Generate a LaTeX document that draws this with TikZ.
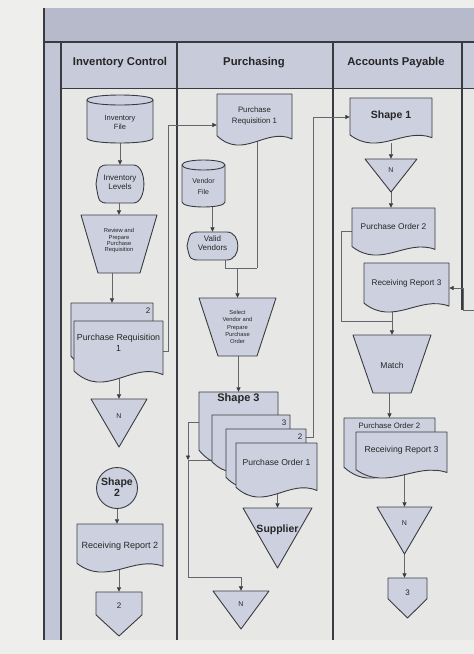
\documentclass[tikz,border=0pt]{standalone}
\usepackage{fontspec}
\setmainfont{Liberation Sans}
\usetikzlibrary{arrows.meta}
\pgfdeclarelayer{bg}
\pgfdeclarelayer{conn}
\pgfsetlayers{bg,conn,main}
\definecolor{pagebg}{HTML}{E7E8E6}
\definecolor{outerbg}{HTML}{EEEEEC}
\definecolor{bandc}{HTML}{B6BACB}
\definecolor{headc}{HTML}{C8CBDA}
\definecolor{stripc}{HTML}{C3C6D6}
\definecolor{shpfill}{HTML}{CDD0DF}
\definecolor{edgec}{HTML}{3A3B40}
\definecolor{connc}{HTML}{66676C}
\tikzset{
  shp/.style={fill=shpfill, draw=edgec, line width=0.9pt, line join=round},
  bx/.style 2 args={draw=none, inner sep=0pt, minimum width={(#1)*1pt}, minimum height={(#2)*1pt}, align=center},
  conn/.style={draw=connc, line width=0.7pt},
  arr/.style={conn, -{Triangle[length=4.5pt,width=4pt,color=edgec]}},
  lane/.style={draw=edgec, line width=1.1pt},
  hdr/.style={inner sep=0pt, font=\fontsize{11.3}{13}\selectfont\bfseries, text=black!85},
  tagn/.style={inner sep=0pt, font=\fontsize{8}{9}\selectfont, text=black!85},
}
\newcommand{\stxt}[4]{{\fontsize{#2pt}{#3pt}\selectfont\color{black!85}\raisebox{\dimexpr #1pt-0.37em\relax}[0pt][0pt]{\begin{tabular}{@{}c@{}}#4\end{tabular}}}}
% document: name x1 y1 x2 y2 text
\newcommand{\mkDoc}[6]{%
  \path[shp] (#2,#3) -- (#4,#3) -- (#4,{#5-0.12*(#5-#3)}) .. controls ({#4-0.35*(#4-#2)},{#5-0.35*(#5-#3)}) and ({#2+0.35*(#4-#2)},{#5+0.3*(#5-#3)}) .. (#2,{#5-0.18*(#5-#3)}) -- cycle;
  \node[bx={#4-#2}{#5-#3}] (#1) at ({(#2+#4)/2},{(#3+#5)/2}) {#6};}
% trapezoid: name x1 y1 x2 y2 inset text
\newcommand{\mkTrap}[7]{%
  \path[shp] (#2,#3) -- (#4,#3) -- ({#4-#6},#5) -- ({#2+#6},#5) -- cycle;
  \node[bx={#4-#2}{#5-#3}] (#1) at ({(#2+#4)/2},{(#3+#5)/2}) {#7};}
% inverted triangle
\newcommand{\mkTri}[6]{%
  \path[shp] (#2,#3) -- (#4,#3) -- ({(#2+#4)/2},#5) -- cycle;
  \node[bx={#4-#2}{#5-#3}] (#1) at ({(#2+#4)/2},{(#3+#5)/2}) {#6};}
% cylinder: name x1 y1 x2 y2 r text
\newcommand{\mkCyl}[7]{%
  \path[shp] (#2,{#3+#6}) -- (#2,{#5-#6}) .. controls (#2,{#5+0.333*#6}) and (#4,{#5+0.333*#6}) .. (#4,{#5-#6}) -- (#4,{#3+#6}) .. controls (#4,{#3-0.333*#6}) and (#2,{#3-0.333*#6}) .. (#2,{#3+#6}) -- cycle;
  \path[shp, fill=none] (#2,{#3+#6}) .. controls (#2,{#3+2.333*#6}) and (#4,{#3+2.333*#6}) .. (#4,{#3+#6});
  \node[bx={#4-#2}{#5-#3}] (#1) at ({(#2+#4)/2},{(#3+#5)/2}) {#7};}
% display shape
\newcommand{\mkDisp}[6]{%
  \path[shp] (#2,{(#3+#5)/2}) .. controls ({#2+0.06*(#4-#2)},#3) .. ({#2+0.28*(#4-#2)},#3) -- ({#4-0.22*(#4-#2)},#3) .. controls ({#4+0.07*(#4-#2)},#3) and ({#4+0.07*(#4-#2)},#5) .. ({#4-0.22*(#4-#2)},#5) -- ({#2+0.28*(#4-#2)},#5) .. controls ({#2+0.06*(#4-#2)},#5) .. (#2,{(#3+#5)/2}) -- cycle;
  \node[bx={#4-#2}{#5-#3}] (#1) at ({(#2+#4)/2},{(#3+#5)/2}) {#6};}
% off-page connector
\newcommand{\mkOff}[6]{%
  \path[shp] (#2,#3) -- (#4,#3) -- (#4,{#3+0.52*(#5-#3)}) -- ({(#2+#4)/2},#5) -- (#2,{#3+0.52*(#5-#3)}) -- cycle;
  \node[bx={#4-#2}{#5-#3}] (#1) at ({(#2+#4)/2},{(#3+#5)/2}) {#6};}
\begin{document}
\begin{tikzpicture}[x=1pt,y=-1pt]
\useasboundingbox (0,0) rectangle (474,654);
\begin{pgfonlayer}{bg}
  \fill[outerbg] (0,0) rectangle (474,654);
  \fill[bandc] (44,8) rectangle (474,42);
  \fill[headc] (61,42) rectangle (474,88);
  \fill[stripc] (44,42) rectangle (61,640);
  \fill[pagebg] (61,88) rectangle (474,640);
  \draw[lane] (44,8) -- (44,640);
  \draw[lane] (44,42) -- (474,42);
  \draw[lane] (61,42) -- (61,640);
  \draw[lane, line width=0.8pt] (61,88) -- (474,88);
  \draw[lane] (177,42) -- (177,640);
  \draw[lane] (333,42) -- (333,640);
  \draw[lane] (462,42) -- (462,310);
\end{pgfonlayer}
% headers
\node[hdr] (h1) at (120,63) {Inventory Control};
\node[hdr] (h2) at (254,63) {Purchasing};
\node[hdr] (h3) at (396,63) {Accounts Payable};
% Inventory Control
\mkCyl{invf}{87}{95}{153}{143}{5}{\stxt{-3.5}{7.5}{9}{Inventory\\File}}
\mkDisp{invl}{96}{165}{144}{203}{\stxt{1.5}{8}{9}{Inventory\\Levels}}
\mkTrap{revq}{81}{215}{157}{273}{17}{\stxt{3.5}{5.8}{6.3}{Review and\\Prepare\\Purchase\\Requisition}}
\mkDoc{pr2}{71}{303}{153}{368}{}
\node[tagn] (pr2t) at (148,311) {2};
\mkDoc{pr1}{74}{321}{163}{382}{\stxt{9}{8.8}{11}{Purchase Requisition\\1}}
\mkTri{tn1}{91}{399}{147}{447}{\stxt{7}{7}{8}{N}}
\node[shp, circle, minimum size=41pt, inner sep=0pt] (sh2) at (117,488) {\stxt{0}{10.5}{11}{\bfseries Shape\\\bfseries 2}};
\mkDoc{rr2}{77}{524}{163}{572}{\stxt{3}{9}{10}{Receiving Report 2}}
\mkOff{off2}{96}{592}{142}{636}{\stxt{8}{8}{9}{2}}
% Purchasing
\mkDoc{ppr}{217}{94}{292}{145}{\stxt{4.5}{7.8}{10.5}{Purchase\\Requisition 1}}
\mkCyl{vf}{182}{160}{225}{207}{5}{\stxt{-2.5}{7}{11}{Vendor\\File}}
\mkDisp{vv}{187}{232}{238}{260}{\stxt{2.5}{8}{9}{Valid\\Vendors}}
\mkTrap{sel}{199}{298}{276}{356}{19}{\stxt{0}{5.8}{7.4}{Select\\Vendor and\\Prepare\\Purchase\\Order}}
\mkDoc{s3}{199}{392}{278}{463}{\stxt{29.5}{11}{12}{\bfseries Shape 3}}
\mkDoc{d3}{212}{415}{290}{472}{}
\node[tagn] (d3t) at (284,423) {3};
\mkDoc{d2}{226}{429}{306}{488}{}
\node[tagn] (d2t) at (300,437) {2};
\mkDoc{po1}{236}{443}{317}{497}{\stxt{7}{8.6}{10}{Purchase Order 1}}
\mkTri{sup}{243}{508}{312}{568}{\stxt{9}{10.5}{12}{\bfseries Supplier}}
\mkTri{tn2}{213}{591}{269}{629}{\stxt{6}{7}{8}{N}}
% Accounts Payable
\mkDoc{sh1}{350}{98}{432}{143}{\stxt{5.5}{10.5}{12}{\bfseries Shape 1}}
\mkTri{tn3}{365}{159}{417}{192}{\stxt{5.5}{7}{8}{N}}
\mkDoc{po2}{352}{208}{435}{255}{\stxt{5.5}{8.3}{10}{Purchase Order 2}}
\mkDoc{rr3}{364}{263}{449}{312}{\stxt{5.5}{8.2}{10}{Receiving Report 3}}
\mkTrap{match}{353}{335}{431}{393}{20}{\stxt{-1}{8.5}{10}{Match}}
\mkDoc{po2b}{344}{418}{435}{478}{\stxt{22}{7.8}{9}{Purchase Order 2}}
\mkDoc{rr3b}{356}{432}{447}{478}{\stxt{5}{8.7}{10}{Receiving Report 3}}
\mkTri{tn4}{377}{507}{432}{554}{\stxt{7.5}{7}{8}{N}}
\mkOff{off3}{388}{578}{427}{618}{\stxt{5}{8}{9}{3}}
% connectors
\coordinate (c1) at (168,125);
\coordinate (c2) at (257,268);
\coordinate (c3) at (225,268);
\coordinate (c3a) at (199,422);
\coordinate (c5) at (212,460);
\coordinate (c6) at (188,460);
\coordinate (c7) at (188,577);
\coordinate (c8) at (306,437);
\coordinate (c9) at (313,117);
\coordinate (c10) at (341,321);
\coordinate (c11) at (392,321);
\coordinate (c12) at (474,310);
\coordinate (c13) at (463,288);
\begin{pgfonlayer}{conn}
  \draw[arr] (invf) -- (invl.north);
  \draw[arr] (invl -| revq) -- (revq.north);
  \draw[arr] (revq -| pr2) -- (pr2.north);
  \draw[arr] (pr1 -| tn1) -- (tn1.north);
  \draw[arr] (sh2) -- (sh2 |- rr2.north);
  \draw[arr] (rr2 -| off2) -- (off2.north);
  \draw[arr] (pr1.east) -| (c1) -- (c1 -| ppr.west);
  \draw[arr] (vf -| vv) -- (vv.north);
  \draw[conn] (ppr -| c2) -- (c2);
  \draw[conn] (vv -| c3) -- (c3) -- (c2);
  \draw[arr] (sel.north |- c2) -- (sel.north);
  \draw[arr] (sel -| s3) -- (s3.north);
  \draw[arr] (c3a) -| (c6);
  \draw[arr] (c5) -- (c6) -- (c7) -| (tn2.north);
  \draw[arr] (c8) -| (c9) -- (c9 -| sh1.west);
  \draw[arr] (po1 -| sup) -- (sup.north);
  \draw[arr] (sh1) -- (tn3.north);
  \draw[arr] (tn3.south) -- (tn3.south |- po2.north);
  \draw[conn] (po2.west) -| (c10) -- (c11);
  \draw[conn] (rr3 -| c11) -- (c11);
  \draw[arr] (c11) -- (match.north);
  \draw[arr] (c12) -| (c13) -- (c13 -| rr3.east);
  \draw[arr] (match -| po2b) -- (po2b.north);
  \draw[arr] (rr3b -| tn4) -- (tn4.north);
  \draw[arr] (tn4.south) -- (tn4.south |- off3.north);
\end{pgfonlayer}
\end{tikzpicture}
\end{document}
